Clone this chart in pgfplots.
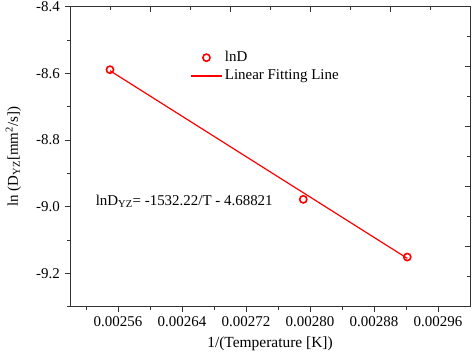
\documentclass[border=0pt]{standalone}
\usepackage{fontspec}
\setmainfont{Liberation Serif}
\usepackage{pgfplots}
\pgfplotsset{compat=1.18}
\begin{document}
\fontsize{15}{18}\selectfont
\begin{tikzpicture}
\begin{axis}[
  name=ax,
  scale only axis, width=400bp, height=300bp,
  xmin=0.0025, xmax=0.003, ymin=-9.3, ymax=-8.4,
  xtick={0.00256,0.00264,0.00272,0.0028,0.00288,0.00296},
  minor xtick={0.00252,0.0026,0.00268,0.00276,0.00284,0.00292},
  ytick={-9.2,-9,-8.8,-8.6,-8.4},
  minor ytick={-9.3,-9.1,-8.9,-8.7,-8.5},
  xtick pos=left, ytick pos=left, tick align=outside,
  major tick length=5bp, minor tick length=3bp,
  axis line style={black!80, line width=0.9bp},
  every tick/.style={black!80, line width=0.9bp},
  scaled x ticks=false,
  /pgf/number format/assume math mode=true,
  xticklabel style={/pgf/number format/.cd, fixed, fixed zerofill, precision=5, /tikz/.cd, font=\fontsize{15}{18}\selectfont},
  yticklabel style={/pgf/number format/.cd, fixed, fixed zerofill, precision=1, /tikz/.cd, font=\fontsize{15}{18}\selectfont},
  xlabel={1/(Temperature [K])},
  ylabel={ln (D\textsubscript{YZ}[mm\textsuperscript{2}/s])},
  label style={font=\fontsize{15.5}{18}\selectfont},
  every axis y label/.style={at={(ticklabel cs:0.5,5bp)}, rotate=90, anchor=near ticklabel},
  legend style={at={(0.292,0.865)}, anchor=north west, draw=white, fill=none, font=\fontsize{15}{18}\selectfont, row sep=2bp},
  legend cell align=left,
]
\addplot[only marks, mark=o, color=red, mark size=3.6bp, mark options={line width=1.6bp},
  legend image code/.code={\draw[red, line width=1.6bp] plot[mark=o, mark size=3.6bp] coordinates {(0.56cm,0cm)};}]
  coordinates {(0.00255,-8.589) (0.0027916,-8.978) (0.0029216,-9.151)};
\addlegendentry{lnD}
\addplot[color=red, line width=1.2bp,
  legend image code/.code={\draw[draw=red, line width=1.2bp] (0cm,0cm) -- (1.12cm,0cm);}]
  coordinates {(0.00255,-8.592) (0.0029216,-9.155)};
\addlegendentry{Linear Fitting Line}
\node[anchor=west, inner sep=0pt, font=\fontsize{15}{18}\selectfont] at (axis cs:0.002532,-8.985) {lnD\textsubscript{YZ}= -1532.22/T - 4.68821};
\end{axis}
\begin{axis}[
  overlay,
  scale only axis, width=400bp, height=300bp,
  xmin=0, xmax=1, ymin=0, ymax=1,
  xtick={0.2,0.4,0.6,0.8}, minor xtick={0.1,0.3,0.5,0.7,0.9},
  ytick={0.2,0.4,0.6,0.8}, minor ytick={0.1,0.3,0.5,0.7,0.9},
  xtick pos=right, ytick pos=right, tick align=inside,
  major tick length=5bp, minor tick length=3bp,
  axis line style={black!80, line width=0.9bp},
  every tick/.style={black!80, line width=0.9bp},
  xticklabels={}, yticklabels={},
]
\end{axis}
\pgfresetboundingbox
\path[use as bounding box] (ax.south west) ++(-70bp,-53.3bp) rectangle ++(474bp,360bp);
\end{tikzpicture}
\end{document}
